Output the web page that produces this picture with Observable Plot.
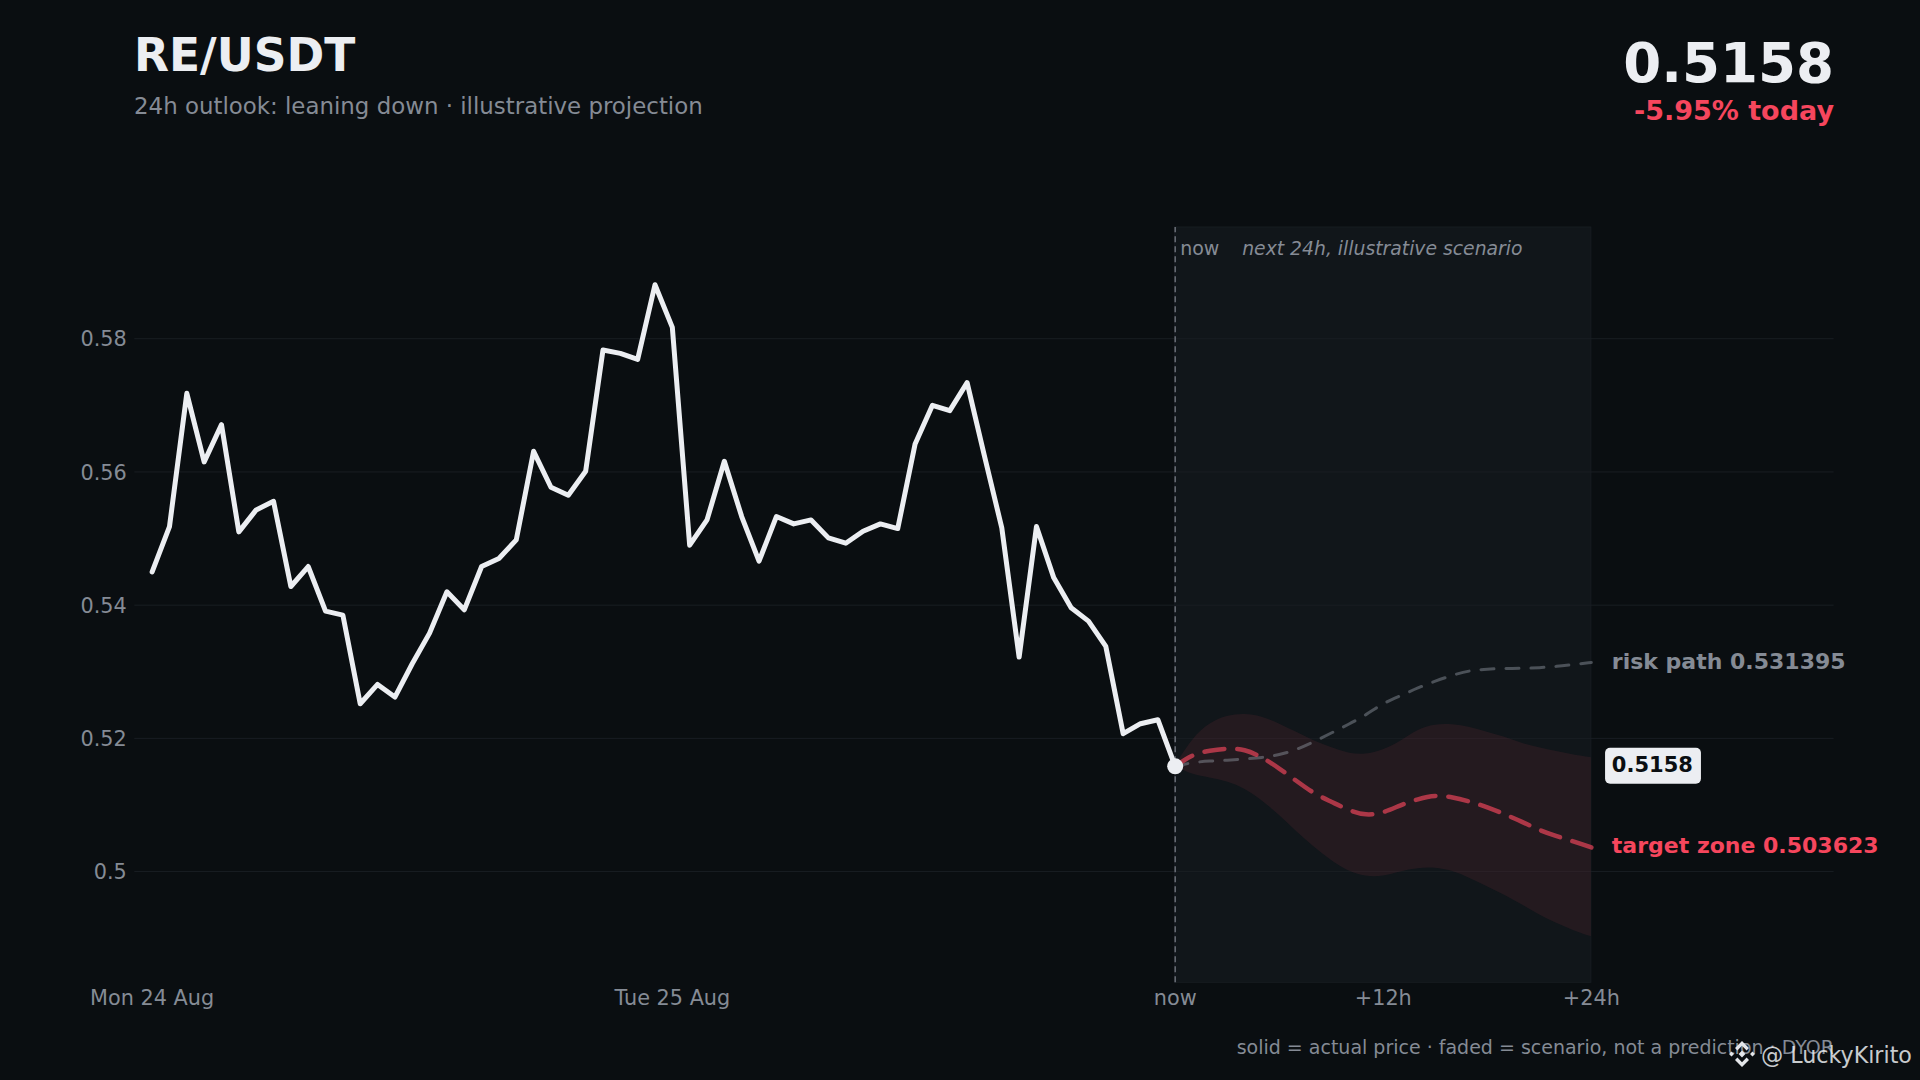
<!DOCTYPE html>
<html>
<head>
<meta charset="utf-8">
<script src="https://cdn.jsdelivr.net/npm/d3@7"></script>
<script src="https://cdn.jsdelivr.net/npm/@observablehq/plot@0.6"></script>
<style>
  html, body { margin: 0; padding: 0; background: #0a0e11; width: 1920px; height: 1080px; overflow: hidden; }
  body { font-family: "DejaVu Sans", sans-serif; position: relative; }
  .abs { position: absolute; white-space: nowrap; }
  #chart { position: absolute; left: 0; top: 0; }
  #title { left: 134px; top: 27px; font-size: 45.5px; line-height: 58px; font-weight: 700; color: #eceef2; }
  #subtitle { left: 134px; top: 92px; font-size: 22.9px; line-height: 28px; color: #858b95; }
  #price { right: 86px; top: 30px; font-size: 54.6px; line-height: 66px; font-weight: 700; color: #eceef2; }
  #change { right: 86px; top: 94px; font-size: 27px; line-height: 34px; font-weight: 700; color: #f6465d; }
  #caption { right: 86px; top: 1035px; font-size: 19px; line-height: 24px; color: #858b95; }
  #logo { left: 1728px; top: 1040px; }
  #handle { left: 1761px; top: 1040px; color: rgba(236,238,242,.85); font-size: 22.2px; line-height: 30px; }
</style>
</head>
<body>
<div id="chart"></div>
<div class="abs" id="title">RE/USDT</div>
<div class="abs" id="subtitle">24h outlook: leaning down · illustrative projection</div>
<div class="abs" id="price">0.5158</div>
<div class="abs" id="change">-5.95% today</div>
<div class="abs" id="caption">solid = actual price · faded = scenario, not a prediction · DYOR</div>
<svg class="abs" id="logo" width="28" height="28" viewBox="0 0 28 28" fill="#e4e6ea"><path d="M14 1L21 8L18.6 10.4L14 5.8L9.4 10.4L7 8ZM14 27L21 20L18.6 17.6L14 22.2L9.4 17.6L7 20ZM1 14L3.5 11.5L6 14L3.5 16.5ZM27 14L24.5 11.5L22 14L24.5 16.5ZM14 10.6L17.4 14L14 17.4L10.6 14Z"/></svg>
<div class="abs" id="handle">@ LuckyKirito</div>
<script>
const history = [
  0.5450, 0.5518, 0.5718, 0.5615, 0.5671, 0.5510, 0.5543, 0.5556, 0.5428, 0.5458,
  0.5391, 0.5385, 0.5252, 0.5281, 0.5262, 0.5312, 0.5358, 0.5420, 0.5393, 0.5458,
  0.5470, 0.5498, 0.5631, 0.5577, 0.5565, 0.5601, 0.5783, 0.5778, 0.5769, 0.5881,
  0.5817, 0.5490, 0.5528, 0.5616, 0.5533, 0.5466, 0.5533, 0.5522, 0.5528, 0.5501,
  0.5493, 0.5511, 0.5522, 0.5515, 0.5642, 0.5700, 0.5692, 0.5734, 0.5624, 0.5516,
  0.5322, 0.5518, 0.5441, 0.5396, 0.5376, 0.5338, 0.5207, 0.5222, 0.5228, 0.5158
];
const target = [
  0.5158, 0.5176, 0.5182, 0.5185, 0.5184, 0.5172, 0.5155, 0.5136, 0.5117, 0.5105,
  0.5092, 0.5084, 0.5088, 0.5100, 0.5109, 0.5115, 0.5112, 0.5105, 0.5097, 0.5086,
  0.5075, 0.5062, 0.5053, 0.5045, 0.503623
];
const risk = [
  0.5158, 0.5164, 0.5166, 0.5167, 0.5169, 0.5171, 0.5175, 0.5183, 0.5195, 0.5208,
  0.5221, 0.5235, 0.5253, 0.5264, 0.5276, 0.5286, 0.5295, 0.5302, 0.5304, 0.5305,
  0.5305, 0.5306, 0.5308, 0.5311, 0.531395
];
const zoneHigh = [
  0.5158, 0.5200, 0.5223, 0.5234, 0.5237, 0.5233, 0.5222, 0.5209, 0.5196, 0.5186,
  0.5177, 0.5175, 0.5182, 0.5195, 0.5213, 0.5221, 0.5221, 0.5217, 0.5209, 0.5202,
  0.5192, 0.5186, 0.5180, 0.5175, 0.5171
];
const zoneLow = [
  0.5158, 0.5145, 0.5141, 0.5135, 0.5125, 0.5107, 0.5085, 0.5060, 0.5037, 0.5016,
  0.5000, 0.4992, 0.4992, 0.5000, 0.5005, 0.5006, 0.5001, 0.4990, 0.4977, 0.4965,
  0.4950, 0.4935, 0.4922, 0.4911, 0.4902
];
const yTicks = [0.5, 0.52, 0.54, 0.56, 0.58];
const xTickPos = [0, 30, 59, 71, 83];
const xTickText = ["Mon 24 Aug", "Tue 25 Aug", "now", "+12h", "+24h"];

const nowIdx = history.length - 1;
const endIdx = nowIdx + target.length - 1;
const last = history[nowIdx];
const yTop = 0.5967, yBottom = 0.4833;

const histRows = history.map((v, i) => ({i, v}));
const fcRows = target.map((v, k) => ({i: nowIdx + k, target: v, risk: risk[k], hi: zoneHigh[k], lo: zoneLow[k]}));

const red = "#f6465d", grey = "#858b95", white = "#eceef2";
const font = '"DejaVu Sans", sans-serif';

const chart = Plot.plot({
  width: 1920, height: 1080,
  marginTop: 227, marginBottom: 97.7, marginLeft: 134.3, marginRight: 86.4,
  style: {background: "transparent", fontFamily: font, overflow: "visible"},
  x: {domain: [-1, 97], axis: null},
  y: {domain: [yBottom, yTop], axis: null},
  marks: [
    Plot.rect([0], {x1: nowIdx, x2: endIdx, y1: yBottom, y2: yTop, fill: "#11161a", stroke: "#171c21", strokeWidth: 1}),
    Plot.ruleY(yTicks, {stroke: "#191e23", strokeWidth: 1}),
    Plot.areaY(fcRows, {x: "i", y1: "lo", y2: "hi", fill: red, fillOpacity: 0.085, curve: "basis"}),
    Plot.ruleX([nowIdx], {y1: yBottom, y2: yTop, stroke: "#6a6f77", strokeWidth: 1.5, strokeDasharray: "6 4"}),
    Plot.line(fcRows, {x: "i", y: "risk", stroke: grey, strokeOpacity: 0.5, strokeWidth: 3, strokeDasharray: "13 12", curve: "basis"}),
    Plot.line(fcRows, {x: "i", y: "target", stroke: red, strokeOpacity: 0.65, strokeWidth: 4.5, strokeDasharray: "20 13", curve: "basis"}),
    Plot.line(histRows, {x: "i", y: "v", stroke: white, strokeWidth: 5, strokeLinejoin: "round", strokeLinecap: "round"}),
    Plot.dot([last], {x: () => nowIdx, y: d => d, r: 8, fill: white, stroke: null}),
    Plot.axisY(yTicks, {anchor: "left", tickSize: 0, tickPadding: 8, dy: 1, label: null, tickFormat: d => String(d), fontSize: 20.8, fill: grey}),
    Plot.text(xTickPos, {x: d => d, frameAnchor: "bottom", dy: 16, text: (d, i) => xTickText[i], fontSize: 20.8, fill: grey, lineAnchor: "middle"}),
    Plot.text(["now"], {x: () => nowIdx, y: () => yTop, dx: 5, dy: 21, textAnchor: "start", fontSize: 19, fill: grey, lineAnchor: "middle"}),
    Plot.text(["next 24h, illustrative scenario"], {x: () => nowIdx, y: () => yTop, dx: 67, dy: 21, textAnchor: "start", fontSize: 18.8, fontStyle: "italic", fill: grey, lineAnchor: "middle"}),
    Plot.text([risk[risk.length - 1]], {x: () => endIdx, y: d => d, dx: 20.5, dy: -1, textAnchor: "start", text: d => `risk path ${d}`, fontSize: 22, fontWeight: 700, fill: grey, lineAnchor: "middle"}),
    Plot.text([target[target.length - 1]], {x: () => endIdx, y: d => d, dx: 20.5, dy: -1, textAnchor: "start", text: d => `target zone ${d}`, fontSize: 22, fontWeight: 700, fill: red, lineAnchor: "middle"}),
    Plot.rect([last], {x1: () => endIdx + 0.82, x2: () => endIdx + 6.35, y1: d => d - 0.0027, y2: d => d + 0.0027, fill: white, rx: 5}),
    Plot.text([last], {x: () => endIdx, y: d => d, dx: 20.5, dy: -1, textAnchor: "start", text: d => String(d), fontSize: 21, fontWeight: 700, fill: "#0a0e11", lineAnchor: "middle"})
  ]
});
document.getElementById("chart").appendChild(chart);
</script>
</body>
</html>
